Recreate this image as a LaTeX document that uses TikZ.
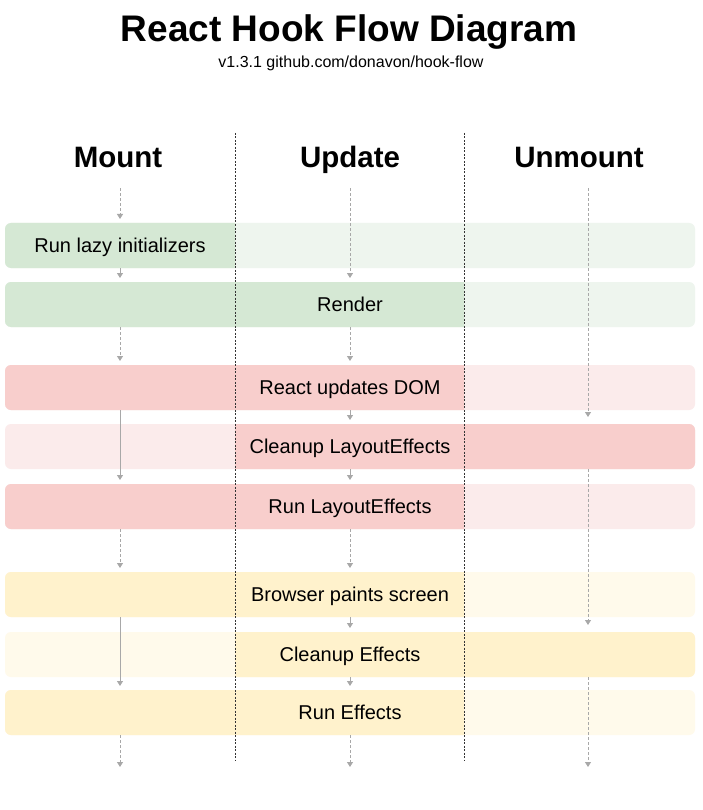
\documentclass[tikz,border=0pt]{standalone}
\usepackage{fontspec}
\setmainfont{Liberation Sans}
\usetikzlibrary{arrows.meta}
\definecolor{gD}{HTML}{D5E8D4}
\definecolor{gL}{HTML}{EEF5EE}
\definecolor{rD}{HTML}{F8CECC}
\definecolor{rL}{HTML}{FBEBEB}
\definecolor{yD}{HTML}{FFF2CC}
\definecolor{yL}{HTML}{FFFAEB}
\definecolor{arrg}{HTML}{A8A8A8}
\definecolor{sepc}{HTML}{333333}
\tikzset{
 bandbox/.style={minimum width=690pt, minimum height=45pt, inner sep=0pt, outer sep=0pt},
 lbl/.style={font=\fontsize{20}{23}\selectfont, text=black, inner sep=0pt, text height=14.3pt, text depth=0pt},
 hdr/.style={font=\fontsize{29.5}{33}\selectfont\bfseries, text height=21pt, text depth=0pt, inner sep=0pt, anchor=base},
 flow/.style={draw=arrg, line width=0.8pt, -{Triangle[width=6pt,length=5pt]}, shorten >=4pt},
 dflow/.style={flow, dash pattern=on 3pt off 2pt},
 sep/.style={draw=sepc, line width=0.7pt, dash pattern=on 2pt off 1.5pt},
}
\newcommand\hkband[8]{%
 \fill[#3, rounded corners=6pt] (5,#2-22.5) rectangle (695,#2+22.5);
 \begin{scope}
 \clip (#5,#2-24) rectangle (#6,#2+24);
 \fill[#4, rounded corners=6pt] (5,#2-22.5) rectangle (695,#2+22.5);
 \end{scope}
 \node[bandbox] (#1) at (350,#2) {};
 \node[lbl] (#1t) at (#8,#2) {#7};
}
\begin{document}
\begin{tikzpicture}[x=1pt, y=-1pt]
\useasboundingbox (0,0) rectangle (703,810);
\fill[white] (0,0) rectangle (703,810);

\node[font=\fontsize{37}{42}\selectfont\bfseries, anchor=base, inner sep=0pt] (title) at (349,42) {React Hook Flow Diagram};
\node[font=\fontsize{16}{19}\selectfont, anchor=base, inner sep=0pt] (sub) at (351,68) {v1.3.1 github.com/donavon/hook-flow};

\node[hdr] (hm) at (118,168) {Mount};
\node[hdr] (hu) at (350,168) {Update};
\node[hdr] (hn) at (579,168) {Unmount};

\coordinate (mx) at (120,0);
\coordinate (ux) at (350,0);
\coordinate (nx) at (588,0);
\coordinate (em) at (120,767);
\coordinate (eu) at (350,767);
\coordinate (en) at (588,767);

\hkband{r1}{245.5}{gL}{gD}{0}{235}{Run lazy initializers}{120}
\hkband{r2}{304.5}{gL}{gD}{0}{464}{Render}{350}
\hkband{r3}{387.5}{rL}{rD}{0}{464}{React updates DOM}{350}
\hkband{r4}{446.5}{rL}{rD}{235}{700}{Cleanup LayoutEffects}{350}
\hkband{r5}{506.5}{rL}{rD}{0}{464}{Run LayoutEffects}{350}
\hkband{r6}{594.5}{yL}{yD}{0}{464}{Browser paints screen}{350}
\hkband{r7}{654.5}{yL}{yD}{235}{700}{Cleanup Effects}{350}
\hkband{r8}{712.5}{yL}{yD}{0}{464}{Run Effects}{350}

% Mount column
\draw[dflow, shorten <=20pt] (hm.south -| mx) -- (r1.north -| mx);
\draw[flow] (r1.south -| mx) -- (r2.north -| mx);
\draw[dflow] (r2.south -| mx) -- (r3.north -| mx);
\draw[flow] (r3.south -| mx) -- (r5.north -| mx);
\draw[dflow] (r5.south -| mx) -- (r6.north -| mx);
\draw[flow] (r6.south -| mx) -- (r8.north -| mx);
\draw[dflow, shorten >=0pt] (r8.south -| mx) -- (em);

% Update column
\draw[dflow, shorten <=20pt] (hu.south -| ux) -- (r2.north -| ux);
\draw[dflow] (r2.south -| ux) -- (r3.north -| ux);
\draw[flow] (r3.south -| ux) -- (r4.north -| ux);
\draw[flow] (r4.south -| ux) -- (r5.north -| ux);
\draw[dflow] (r5.south -| ux) -- (r6.north -| ux);
\draw[flow] (r6.south -| ux) -- (r7.north -| ux);
\draw[flow] (r7.south -| ux) -- (r8.north -| ux);
\draw[dflow, shorten >=0pt] (r8.south -| ux) -- (eu);

% Unmount column
\draw[dflow, shorten <=20pt, shorten >=7pt] (hn.south -| nx) -- (r4.north -| nx);
\draw[dflow, shorten >=7pt] (r4.south -| nx) -- (r7.north -| nx);
\draw[dflow, shorten >=0pt] (r7.south -| nx) -- (en);

% column separators
\draw[sep] (235,133) -- (235,760);
\draw[sep] (464,133) -- (464,760);
\end{tikzpicture}
\end{document}
